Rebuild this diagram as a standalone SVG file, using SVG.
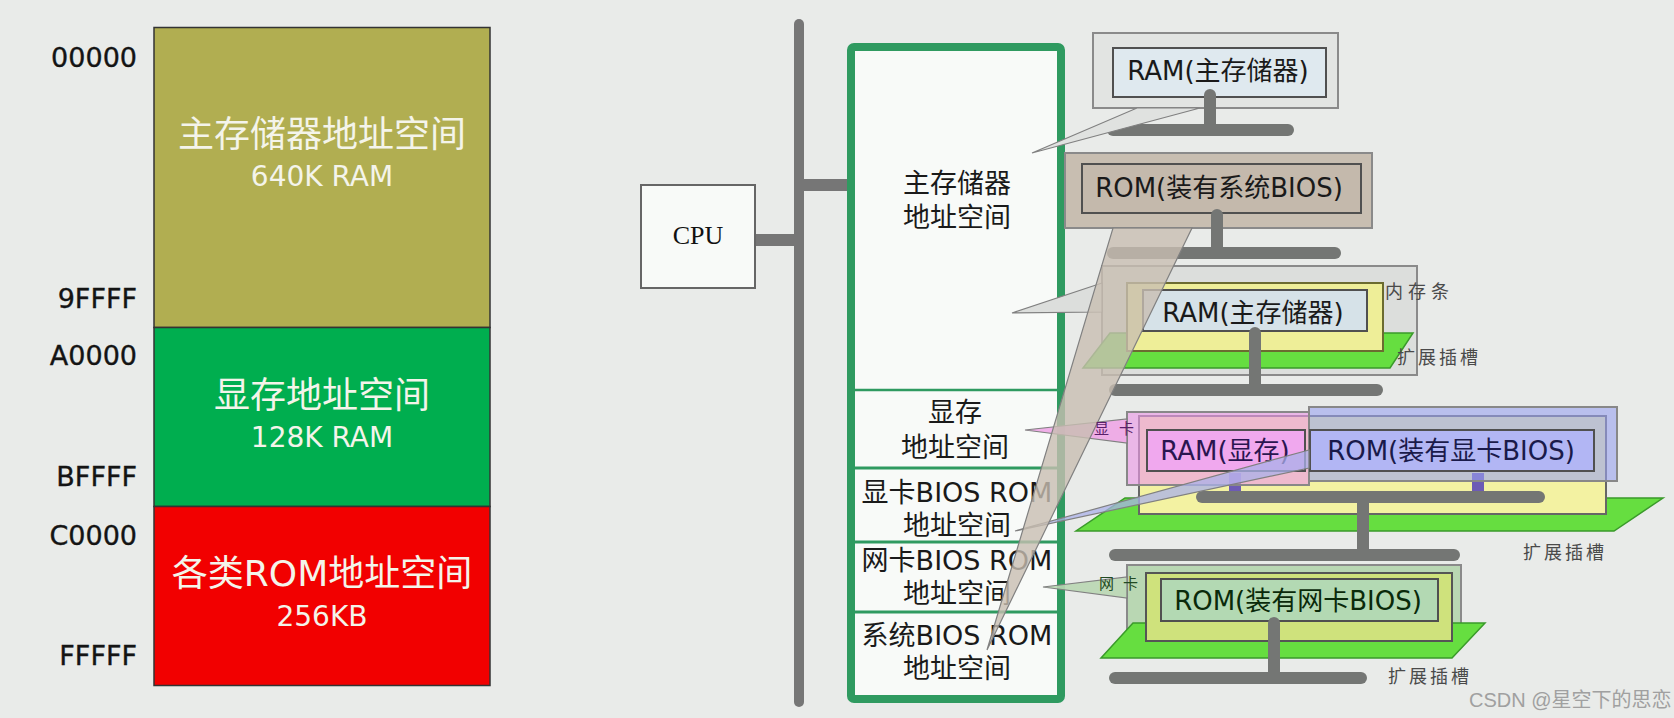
<svg xmlns="http://www.w3.org/2000/svg" width="1674" height="718" viewBox="0 0 1674 718">
<style>
.addr{font-family:"DejaVu Sans","Noto Sans CJK SC",sans-serif;font-size:27px;fill:#141414;stroke:#141414;stroke-width:0.35;text-anchor:end}
.big{font-family:"DejaVu Sans","Noto Sans CJK SC",sans-serif;fill:#f4f4ea;text-anchor:middle}
.sec{font-family:"DejaVu Sans","Noto Sans CJK SC",sans-serif;font-size:27px;fill:#1a1a1a;text-anchor:middle}
.lbl{font-family:"DejaVu Sans","Noto Sans CJK SC",sans-serif;font-size:26px;fill:#1a1a1a;text-anchor:middle}
.note{font-family:"Noto Sans CJK SC",sans-serif;fill:#4a4a4a;font-size:18px;letter-spacing:3px}
.bar{stroke:#747674;stroke-width:12;stroke-linecap:round;fill:none}
.slot{fill:#66de40;stroke:#3a9a2a;stroke-width:1.5}
.outer{stroke:#8a8a8a;stroke-width:2}
.box{stroke:#505050;stroke-width:2}
.wedge{stroke:#808080;stroke-width:1.2}
</style>
<rect width="1674" height="718" fill="#e9ebe9"/>

<g id="memmap">
  <rect x="154" y="27.5" width="336" height="300" fill="#b1ae51" stroke="#333" stroke-width="1.5"/>
  <rect x="154" y="327.5" width="336" height="179" fill="#00ae4f" stroke="#333" stroke-width="1.5"/>
  <rect x="154" y="506.5" width="336" height="179" fill="#f20000" stroke="#333" stroke-width="1.5"/>
  <text class="big" x="322" y="147" font-size="36">主存储器地址空间</text>
  <text class="big" x="322" y="186" font-size="28">640K RAM</text>
  <text class="big" x="322" y="408" font-size="36">显存地址空间</text>
  <text class="big" x="322" y="447" font-size="28">128K RAM</text>
  <text class="big" x="322" y="586" font-size="36">各类ROM地址空间</text>
  <text class="big" x="322" y="626" font-size="28">256KB</text>
  <text class="addr" x="137" y="67">00000</text>
  <text class="addr" x="137" y="308">9FFFF</text>
  <text class="addr" x="137" y="365">A0000</text>
  <text class="addr" x="137" y="486">BFFFF</text>
  <text class="addr" x="137" y="545">C0000</text>
  <text class="addr" x="137" y="665">FFFFF</text>
</g>

<g id="bus">
  <line x1="799" y1="24" x2="799" y2="702" stroke="#767676" stroke-width="10" stroke-linecap="round"/>
  <line x1="755" y1="240" x2="799" y2="240" stroke="#767676" stroke-width="12"/>
  <line x1="799" y1="185" x2="848" y2="185" stroke="#767676" stroke-width="12"/>
</g>

<g id="cpu">
  <rect x="641" y="185" width="114" height="103" fill="#f8faf8" stroke="#666" stroke-width="2"/>
  <text x="698" y="244" font-family="Liberation Serif,serif" font-size="26" text-anchor="middle" fill="#111">CPU</text>
</g>

<g id="addrspace">
  <rect x="851" y="47" width="210" height="652" rx="3" fill="#f8faf8" stroke="#2f9a60" stroke-width="8"/>
  <line x1="855" y1="390" x2="1057" y2="390" stroke="#2f9a60" stroke-width="2.5"/>
  <line x1="855" y1="468" x2="1057" y2="468" stroke="#2f9a60" stroke-width="3"/>
  <line x1="855" y1="542" x2="1057" y2="542" stroke="#2f9a60" stroke-width="3"/>
  <line x1="855" y1="612" x2="1057" y2="612" stroke="#2f9a60" stroke-width="3"/>
  <text class="sec" x="957" y="193">主存储器</text>
  <text class="sec" x="957" y="227">地址空间</text>
  <text class="sec" x="955" y="422">显存</text>
  <text class="sec" x="955" y="457">地址空间</text>
  <text class="sec" x="957" y="502">显卡BIOS ROM</text>
  <text class="sec" x="957" y="535">地址空间</text>
  <text class="sec" x="957" y="570">网卡BIOS ROM</text>
  <text class="sec" x="957" y="603">地址空间</text>
  <text class="sec" x="957" y="645">系统BIOS ROM</text>
  <text class="sec" x="957" y="678">地址空间</text>
</g>

<g id="ram-top">
  <rect class="outer" x="1093" y="33" width="245" height="75" fill="#e2e4e2"/>
  <rect class="box" x="1113" y="48" width="213" height="49" fill="#dfe9ef"/>
  <text class="lbl" x="1218" y="80">RAM(主存储器)</text>
  <line class="bar" x1="1210" y1="95" x2="1210" y2="130"/>
  <line class="bar" x1="1113" y1="130" x2="1288" y2="130"/>
</g>

<g id="rom-sys">
  <rect class="outer" x="1065" y="153" width="307" height="75" fill="#c8beb1"/>
  <rect class="box" x="1082" y="164" width="279" height="49" fill="#c4b9ac"/>
  <text class="lbl" x="1219" y="197">ROM(装有系统BIOS)</text>
  <line class="bar" x1="1217" y1="215" x2="1217" y2="253"/>
  <line class="bar" x1="1113" y1="253" x2="1335" y2="253"/>
</g>

<g id="ram-stick">
  <rect class="outer" x="1102" y="266" width="315" height="109" fill="#dcdedc"/>
  <polygon class="slot" points="1083,368 1390,368 1413,333 1110,333"/>
  <rect x="1127" y="283" width="256" height="68" fill="#eeee98" stroke="#6b6b30" stroke-width="2"/>
  <rect class="box" x="1143" y="290" width="224" height="41" fill="#d6e2e8"/>
  <text class="lbl" x="1253" y="322">RAM(主存储器)</text>
  <line class="bar" x1="1255" y1="333" x2="1255" y2="390"/>
  <line class="bar" x1="1115" y1="390" x2="1377" y2="390"/>
  <text class="note" x="1385" y="298" font-size="17" style="letter-spacing:5px">内存条</text>
  <text class="note" x="1397" y="364">扩展插槽</text>
</g>

<g id="video-card">
  <polygon class="slot" points="1076,531 1614,531 1663,498 1125,498"/>
  <rect x="1139" y="416" width="467" height="98" fill="#f3f2a2" stroke="#666" stroke-width="2"/>
  <line x1="1235" y1="473" x2="1235" y2="497" stroke="#6d5bb5" stroke-width="12"/>
  <line x1="1478" y1="473" x2="1478" y2="497" stroke="#6d5bb5" stroke-width="12"/>
  <rect x="1127" y="412" width="182" height="73" fill="#eb9be6" fill-opacity="0.65" stroke="#888" stroke-width="2"/>
  <rect x="1309" y="407" width="308" height="74" fill="#9aa2f0" fill-opacity="0.6" stroke="#888" stroke-width="2"/>
  <rect class="box" x="1147" y="430" width="158" height="41" fill="#f0a8ee"/>
  <text class="lbl" x="1225" y="460" font-size="25" style="fill:#2a1550">RAM(显存)</text>
  <rect class="box" x="1310" y="430" width="284" height="41" fill="#b2b6f4"/>
  <text class="lbl" x="1451" y="460" style="fill:#1a1a4a">ROM(装有显卡BIOS)</text>
  <line class="bar" x1="1202" y1="497" x2="1539" y2="497"/>
  <line x1="1363" y1="497" x2="1363" y2="555" stroke="#747674" stroke-width="12"/>
  <line class="bar" x1="1115" y1="555" x2="1454" y2="555"/>
  <text class="note" x="1523" y="559">扩展插槽</text>
</g>

<g id="nic-card">
  <rect class="outer" x="1127" y="565" width="334" height="73" fill="#b9d7b3"/>
  <polygon class="slot" points="1101,658 1452,658 1485,623 1133,623"/>
  <rect x="1146" y="573" width="306" height="68" fill="#cfe27c" stroke="#555" stroke-width="2"/>
  <rect class="box" x="1161" y="579" width="277" height="42" fill="#b3d9b3"/>
  <text class="lbl" x="1298" y="610" style="fill:#0a2a0a">ROM(装有网卡BIOS)</text>
  <line class="bar" x1="1274" y1="623" x2="1274" y2="678"/>
  <line class="bar" x1="1115" y1="678" x2="1361" y2="678"/>
  <text class="note" x="1388" y="683">扩展插槽</text>
</g>

<g id="connectors">
  <polygon class="wedge" points="1137,108 1200,108 1032,153" fill="#e0e2e0"/>
  <polygon class="wedge" points="1102,283 1102,312 1012,313" fill="#dcdedc"/>
  <polygon class="wedge" points="1127,419 1127,443 1025,430" fill="#eea6e6" fill-opacity="0.9"/>
  <polygon class="wedge" points="1309,450 1309,468 1015,531" fill="#aab0e8" fill-opacity="0.75"/>
  <polygon class="wedge" points="1127,577 1127,598 1043,587" fill="#b9d7b3" fill-opacity="0.9"/>
  <polygon class="wedge" points="1113,228 1192,228 987,650" fill="#c8beb1" fill-opacity="0.8"/>
</g>

<g id="card-labels">
  <text x="1094" y="434" font-family="Noto Sans CJK SC,sans-serif" font-size="15" fill="#5a1f6a" letter-spacing="10">显卡</text>
  <text x="1099" y="589" font-family="Noto Sans CJK SC,sans-serif" font-size="15" fill="#224a22" letter-spacing="9">网卡</text>
</g>

<text x="1469" y="707" font-family="Liberation Sans,Noto Sans CJK SC,sans-serif" font-size="20" fill="#a0a0a0">CSDN @星空下的思恋</text>
</svg>
